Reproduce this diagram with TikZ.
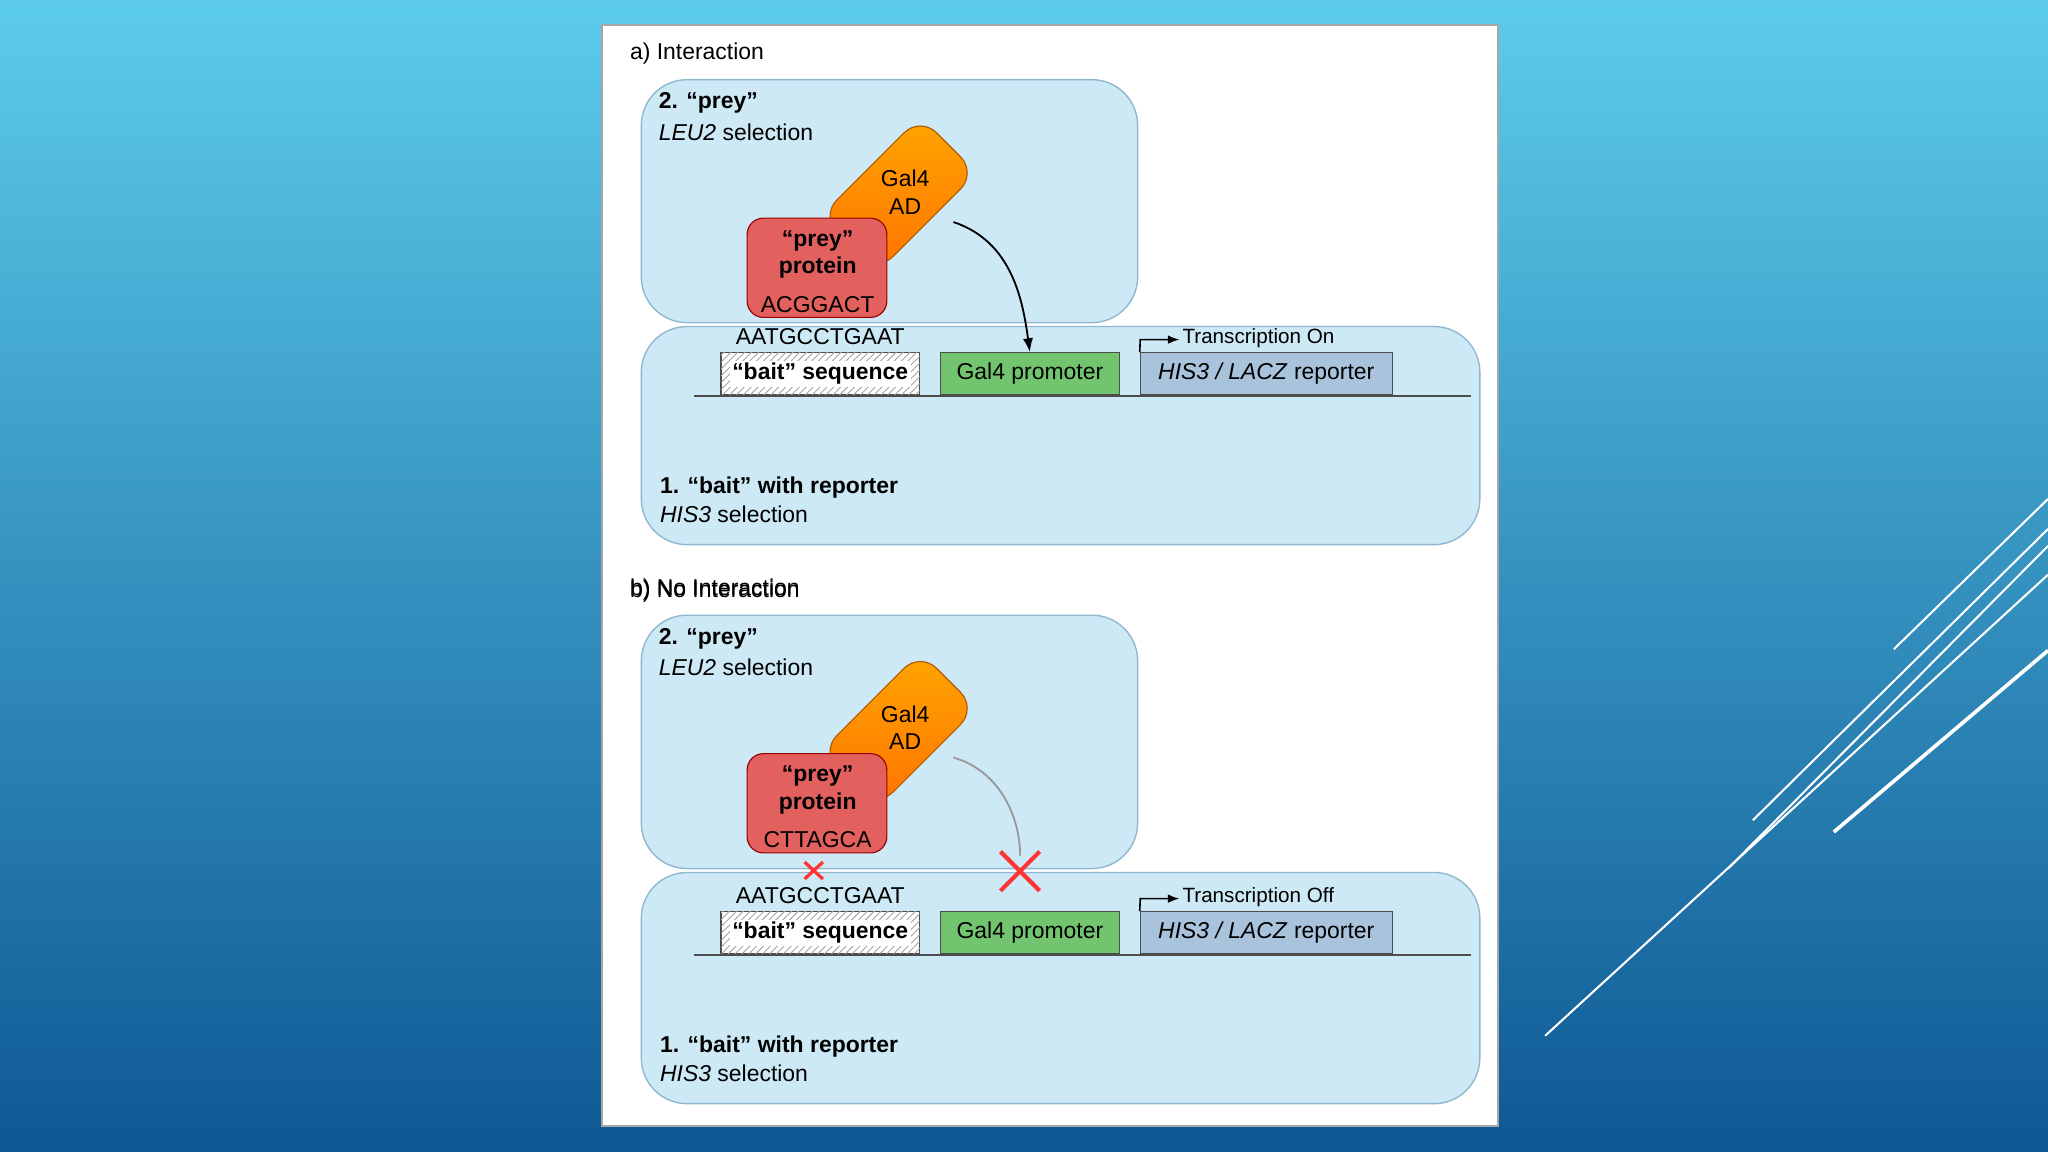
\documentclass[tikz,border=0pt]{standalone}
\usepackage{fontspec}
\setmainfont{Liberation Sans}
\usetikzlibrary{patterns,arrows.meta,shadings}
\definecolor{blob}{HTML}{CDE9F5}
\definecolor{blobd}{HTML}{8FB7CF}
\definecolor{grn}{HTML}{72C46E}
\definecolor{rep}{HTML}{A9C3DD}
\definecolor{prey}{HTML}{E2605E}
\definecolor{org}{HTML}{F0922E}
\tikzset{
 blobst/.style={fill=blob,draw=blobd,line width=0.6pt,rounded corners=0.7cm},
 boxst/.style={draw=black!70,line width=0.5pt,minimum height=0.64cm,inner sep=0pt,font=\fontsize{10}{12}\selectfont},
 txt/.style={font=\fontsize{10}{12}\selectfont,inner sep=0pt,align=left},
 cross/.style={draw=red!80,line width=1.4pt},
 deco/.style={draw=white,line width=0.9pt}
}
\begin{document}
\begin{tikzpicture}[x=0.02cm,y=-0.02cm]
\shade[top color=cyan!55!blue!55!white,bottom color=blue!55!black!85!cyan] (0,0) rectangle (1568,882);
\fill[top color={rgb,255:red,92;green,204;blue,235},bottom color={rgb,255:red,14;green,88;blue,148}] (0,0) rectangle (1568,882);
\useasboundingbox (0,0) rectangle (1568,882);
% decorative lines
\draw[deco] (1183,793) -- (1568,440);
\draw[deco] (1342,628) -- (1568,405);
\draw[deco] (1323,665) -- (1568,418);
\draw[deco,line width=1.6pt] (1404,637) -- (1568,498);
\draw[deco] (1450,497) -- (1568,382);
% panel
\fill[white,draw=gray!70,line width=1pt] (461,19) rectangle (1147,862);

\foreach \dy/\lab/\off/\seq/\on in {0/{a) Interaction}/0/ACGGACT/On, 410/{b) No Interaction}/1/CTTAGCA/Off}{
  \begin{scope}[yshift={-\dy*0.02cm}]
  \node[txt,anchor=west] at (482,41) {\lab};
  \end{scope}
}
% ---------- panel a
\draw[blobst] (491,61) rectangle (871,247);
\draw[blobst] (491,250) rectangle (1133,417);
\node[txt,anchor=west] at (504,79) {\textbf{2. “prey”}};
\node[txt,anchor=west] at (504,101) {\textit{LEU2} selection};
\node[txt,anchor=west] at (505,373) {\textbf{1. “bait” with reporter}};
\node[txt,anchor=west] at (505,394) {\textit{HIS3} selection};
\draw[black!70,line width=0.8pt] (531,303) -- (1126,303);
\node[boxst,fill=white,postaction={pattern=north east lines,pattern color=gray!70},minimum width=3.04cm] (baitA) at (628,286) {};
\node[txt,fill=white,inner sep=1pt] at (baitA) {\textbf{“bait” sequence}};
\node[boxst,fill=grn,minimum width=2.74cm] (promA) at (788.5,286) {Gal4 promoter};
\node[boxst,fill=rep,minimum width=3.86cm] (repA) at (969.5,286) {\textit{HIS3 / LACZ} reporter};
\node[txt] (seqA) at (628,258) {AATGCCTGAAT};
\coordinate (tA) at (903,260);
\draw[-{Latex[length=5pt]},line width=0.7pt] (repA.north west) ++(0,0) -- (873,260) -- (tA);
\node[txt,anchor=west,font=\fontsize{9}{11}\selectfont] at (905,259) {Transcription On};
\node[draw=orange!70!black,line width=0.5pt,top color=orange!70!yellow,bottom color=orange!90!red,rounded corners=0.35cm,minimum width=2.16cm,minimum height=1.22cm,rotate=45] (adA) at (688,149) {};
\node[txt,align=center] at (693,147) {Gal4\\AD};
\node[draw=red!60!black,line width=0.5pt,fill=prey,rounded corners=0.25cm,minimum width=2.14cm,minimum height=1.52cm] (preyA) at (625.5,205) {};
\node[txt,align=center] at (626,195) {\textbf{“prey”}\\\textbf{protein}};
\node[txt] at (626,233) {ACGGACT};
\coordinate (sA) at (730,170);
\draw[-{Latex[length=6pt]},line width=0.8pt] (sA) .. controls (775,185) and (783,230) .. (promA.north);

% ---------- panel b
\node[txt,anchor=west] at (482,453) {b) No Interaction};
\draw[blobst] (491,471) rectangle (871,665);
\draw[blobst] (491,668) rectangle (1133,845);
\node[txt,anchor=west] at (504,489) {\textbf{2. “prey”}};
\node[txt,anchor=west] at (504,511) {\textit{LEU2} selection};
\node[txt,anchor=west] at (505,801) {\textbf{1. “bait” with reporter}};
\node[txt,anchor=west] at (505,822) {\textit{HIS3} selection};
\draw[black!70,line width=0.8pt] (531,731) -- (1126,731);
\node[boxst,fill=white,postaction={pattern=north east lines,pattern color=gray!70},minimum width=3.04cm] (baitB) at (628,714) {};
\node[txt,fill=white,inner sep=1pt] at (baitB) {\textbf{“bait” sequence}};
\node[boxst,fill=grn,minimum width=2.74cm] (promB) at (788.5,714) {Gal4 promoter};
\node[boxst,fill=rep,minimum width=3.86cm] (repB) at (969.5,714) {\textit{HIS3 / LACZ} reporter};
\node[txt] (seqB) at (628,686) {AATGCCTGAAT};
\coordinate (tB) at (903,688);
\draw[-{Latex[length=5pt]},line width=0.7pt] (repB.north west) -- (873,688) -- (tB);
\node[txt,anchor=west,font=\fontsize{9}{11}\selectfont] at (905,687) {Transcription Off};
\node[draw=orange!70!black,line width=0.5pt,top color=orange!70!yellow,bottom color=orange!90!red,rounded corners=0.35cm,minimum width=2.16cm,minimum height=1.22cm,rotate=45] (adB) at (688,559) {};
\node[txt,align=center] at (693,557) {Gal4\\AD};
\node[draw=red!60!black,line width=0.5pt,fill=prey,rounded corners=0.25cm,minimum width=2.14cm,minimum height=1.52cm] (preyB) at (625.5,615) {};
\node[txt,align=center] at (626,605) {\textbf{“prey”}\\\textbf{protein}};
\node[txt] at (626,643) {CTTAGCA};
\coordinate (sB) at (730,580);
\coordinate (eB) at (781,655);
\draw[gray!80,line width=0.8pt] (sB) .. controls (765,590) and (781,625) .. (eB);
\draw[cross] (616,660) -- (630,673) (630,660) -- (616,673);
\draw[cross,line width=1.8pt] (766,652) -- (796,682) (796,652) -- (766,682);
\end{tikzpicture}
\end{document}
